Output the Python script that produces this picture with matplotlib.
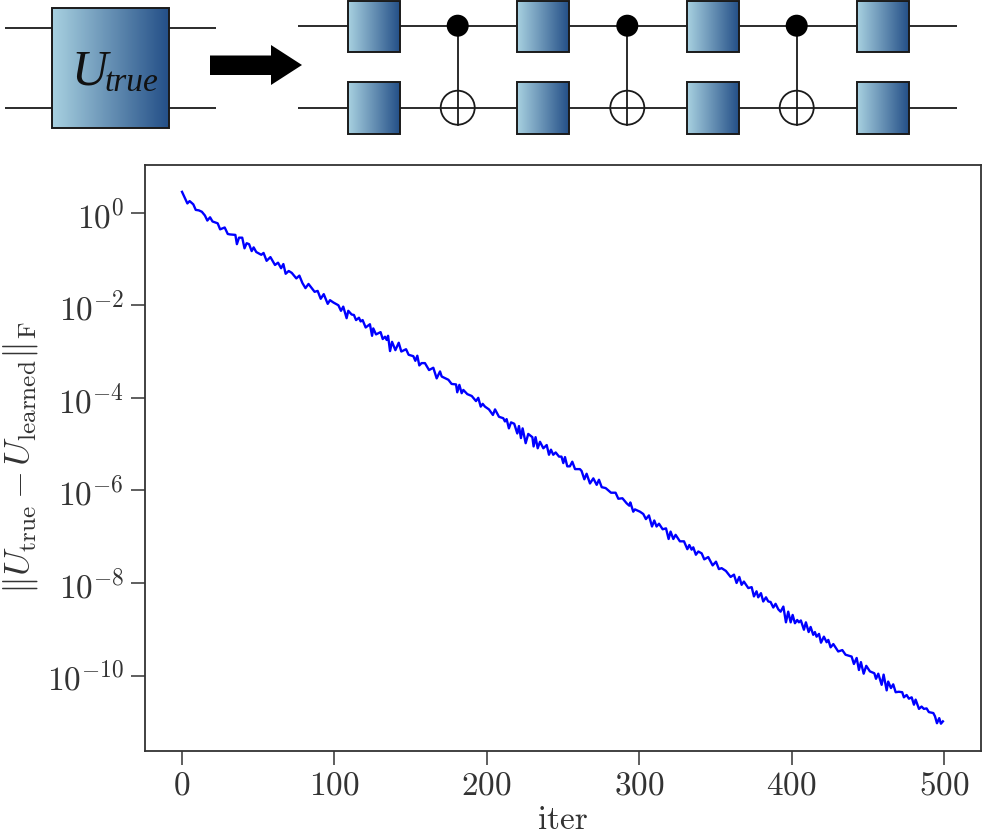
import numpy as np
import matplotlib
matplotlib.use("Agg")
import matplotlib.pyplot as plt
from matplotlib.patches import Circle, Rectangle, Polygon

plt.rcParams['font.family'] = ['cmr10', 'DejaVu Serif']
plt.rcParams['mathtext.fontset'] = 'cm'
plt.rcParams['axes.formatter.use_mathtext'] = True
plt.rcParams['axes.unicode_minus'] = False

# iter / log10(error)
iters_a = [0, 2, 3.5, 5, 7.4, 9, 11, 13, 15, 16.6, 18.4, 20, 23.4, 25, 28, 30, 31.5, 35, 36, 37.4, 39.5, 41, 42.4, 44,
           45.7, 47, 48.7, 52, 53.5, 55.5, 58, 61, 63, 65, 66.5, 68, 70, 72, 75, 77, 79, 81, 83, 87, 89, 91, 93, 95.6]
log_a = [0.45, 0.31, 0.20, 0.25, 0.18, 0.06, 0.05, 0.02, -0.06, -0.17, -0.10, -0.19, -0.23, -0.36, -0.32, -0.46, -0.47,
         -0.48, -0.68, -0.54, -0.54, -0.77, -0.66, -0.68, -0.83, -0.75, -0.85, -0.91, -0.87, -1.04, -0.96, -1.13, -1.08,
         -1.20, -1.11, -1.32, -1.26, -1.30, -1.42, -1.36, -1.52, -1.63, -1.54, -1.71, -1.69, -1.86, -1.76, -1.97]

iters_b = [97.1, 99.3, 102.6, 104.3, 105.8, 108, 109.1, 111.3, 112.8, 114.2, 116.1, 117.2, 118.5, 120.5, 123.3, 124.7,
           125.5, 127.3, 130.3, 131.7, 133.2, 134.3, 135.2, 136.5, 137.8, 140, 142.2, 143.9, 147, 148.7, 151.8, 153.1,
           154.4, 155.7, 157.2, 159.4, 162.1, 164.9, 167.1, 169.3, 170.4, 174.8, 176.9, 179.8, 180.6, 182, 183.5, 184.6,
           187.2, 190.1, 192.9, 194.4, 196, 197.3]
log_b = [-1.89, -1.94, -2.00, -2.12, -2.03, -2.28, -2.12, -2.20, -2.21, -2.32, -2.27, -2.35, -2.32, -2.48, -2.41, -2.66,
         -2.50, -2.63, -2.58, -2.73, -2.68, -2.75, -2.66, -2.99, -2.79, -2.97, -2.81, -3.00, -2.95, -3.07, -3.10, -3.20,
         -3.09, -3.30, -3.25, -3.25, -3.40, -3.35, -3.58, -3.43, -3.54, -3.61, -3.70, -3.71, -3.88, -3.72, -3.90, -3.83,
         -3.92, -3.96, -4.07, -4.00, -4.19, -4.13]

iters_c = [198.8, 201.4, 204, 205.4, 208, 210.8, 211.9, 213, 214.5, 215.9, 218, 220, 221.1, 222.4, 223.5, 225.5, 227.2,
           229.9, 230.7, 232, 233.4, 234.9, 237.1, 239.3, 240.8, 242.1, 243.6, 245.2, 247.4, 249, 250.2, 251.3, 252.8,
           254.5, 256.1, 257.9, 261.1, 262.2, 264, 265.5, 267.7, 269.9, 272.1, 273.6, 275.4, 278, 281.5, 284.5, 286.3,
           289, 291.8, 293.5, 294.2, 296.1, 297.2]
log_c = [-4.19, -4.25, -4.37, -4.25, -4.41, -4.44, -4.51, -4.46, -4.66, -4.53, -4.56, -4.77, -4.61, -4.87, -4.66, -4.98,
         -4.78, -4.85, -5.05, -4.85, -5.09, -4.95, -5.09, -5.02, -5.23, -5.12, -5.23, -5.18, -5.27, -5.27, -5.41, -5.28,
         -5.48, -5.48, -5.38, -5.54, -5.54, -5.58, -5.76, -5.64, -5.85, -5.74, -5.88, -5.77, -5.93, -5.95, -6.05, -6.05,
         -6.18, -6.17, -6.28, -6.33, -6.26, -6.46, -6.41]

iters_d = [300.5, 302.7, 304.4, 306.4, 308.4, 309.9, 311.4, 313, 315.4, 317.6, 319.3, 320.6, 322.4, 323.9, 326.7, 329.4,
           331.6, 332.9, 334.4, 335.5, 337.2, 338.8, 341, 342.7, 345.3, 348.2, 350.4, 352.3, 354.1, 356.9, 360, 362.2,
           363.9, 365.7, 367.2, 368.7, 371.6, 373.8, 375.3, 377, 378.1, 379.9, 381.4, 383.2, 384.7, 386.2, 388, 389.5,
           391.3, 392.8, 394.6, 396.3, 397.8, 399.4, 400.7]
log_d = [-6.46, -6.51, -6.62, -6.54, -6.78, -6.65, -6.78, -6.72, -6.84, -6.82, -7.05, -6.89, -7.05, -6.96, -7.10, -7.10,
         -7.27, -7.18, -7.28, -7.23, -7.39, -7.32, -7.36, -7.49, -7.44, -7.62, -7.54, -7.70, -7.68, -7.74, -7.87, -7.82,
         -8.00, -7.87, -8.04, -7.97, -8.11, -8.09, -8.29, -8.18, -8.31, -8.22, -8.40, -8.31, -8.40, -8.41, -8.53, -8.45,
         -8.57, -8.62, -8.51, -8.85, -8.62, -8.85, -8.69]

iters_e = [402.2, 403.7, 404.8, 406.1, 408.1, 409.4, 411.2, 412.5, 414.2, 415.3, 416.4, 418, 419.3, 421.2, 423, 424.1,
           425.6, 427.4, 430.6, 433.3, 435.4, 439.4, 440.9, 442.7, 444.2, 445.5, 447.3, 449, 451.4, 454.3, 455.4, 456.9,
           459.1, 460.4, 462.4, 463.4, 465.2, 466.7, 468.3, 470.4, 472.6, 473.7, 475.5, 477, 478.8, 480.3, 481.4, 483.6,
           485.3, 486.8, 488.6, 490.1, 493, 494.1, 495.4, 496.9, 498, 499.3]
log_e = [-8.87, -8.80, -8.85, -8.81, -9.01, -8.85, -9.06, -8.95, -9.12, -9.06, -9.16, -9.10, -9.29, -9.16, -9.28, -9.23,
         -9.39, -9.32, -9.48, -9.45, -9.55, -9.59, -9.75, -9.62, -9.88, -9.71, -9.96, -9.79, -9.91, -9.95, -10.07, -9.96,
         -10.20, -9.98, -10.32, -10.13, -10.27, -10.19, -10.36, -10.35, -10.36, -10.47, -10.42, -10.50, -10.47, -10.63,
         -10.52, -10.72, -10.67, -10.72, -10.71, -10.79, -10.81, -10.88, -11.03, -10.92, -11.04, -10.99]

xticks = [0, 100, 200, 300, 400, 500]
yticks = [1e0, 1e-2, 1e-4, 1e-6, 1e-8, 1e-10]
ylabel = r'$\Vert U_{\mathrm{true}}\,{-}\,U_{\mathrm{learned}}\Vert_{\mathrm{F}}$'

W, H = 982, 833
fig = plt.figure(figsize=(W / 100, H / 100), dpi=100, facecolor='white')

#MAIN PLOT
ax = fig.add_axes([145 / W, 1 - 751 / H, (981 - 145) / W, (751 - 165) / H])
x = np.array(iters_a + iters_b + iters_c + iters_d + iters_e)
y = 10.0 ** np.array(log_a + log_b + log_c + log_d + log_e)
ax.semilogy(x, y, color='#0000ff', lw=1.7)
ax.set_xlim(-24.3, 524.3)
ax.set_ylim(10 ** -11.63, 10 ** 1.03)
ax.set_xticks(xticks)
ax.set_yticks(yticks)
ax.minorticks_off()
ax.tick_params(axis='both', length=10, width=1.1, color='#333333', labelcolor='#333333', labelsize=24, pad=5)
for s in ax.spines.values():
    s.set_linewidth(1.3)
    s.set_color('#333333')
ax.set_xlabel('iter', fontsize=24, color='#333333', labelpad=4)
ax.set_ylabel(ylabel, fontsize=26, color='#333333', labelpad=5)

#CIRCUIT, drawn in pixel coordinates
dg = fig.add_axes([0, 0, 1, 1], zorder=3)
dg.set_xlim(0, W)
dg.set_ylim(H, 0)
dg.axis('off')
dg.patch.set_alpha(0)

grad = np.linspace(0, 1, 256).reshape(1, -1, 1)
c0 = np.array([0.66, 0.82, 0.88])
c1 = np.array([0.14, 0.31, 0.53])
grad = c0 + (c1 - c0) * grad


def gate(x0, y0, x1, y1):
    dg.imshow(grad, extent=[x0, x1, y1, y0], aspect='auto', zorder=2)
    dg.add_patch(Rectangle((x0, y0), x1 - x0, y1 - y0, fc='none', ec='#1a1a1a', lw=1.4, zorder=3))


def wire(x0, x1, yy):
    dg.plot([x0, x1], [yy, yy], color='#1a1a1a', lw=1.3, zorder=1, solid_capstyle='butt')


wire(5, 216, 27.7)
wire(5, 216, 107.7)
gate(52.3, 8, 169, 128)
dg.text(71, 84, 'U', family='Liberation Serif', style='italic', fontsize=36, color='#111111', zorder=4)
dg.text(105, 91, 'true', family='Liberation Serif', style='italic', fontsize=24, color='#111111', zorder=4)

dg.add_patch(Polygon([(210, 55.5), (271, 55.5), (271, 45), (302, 65), (271, 85), (271, 75), (210, 75)],
                     fc='black', ec='none', zorder=2))

wire(298, 957, 25.7)
wire(298, 957, 107.7)
for gx in [347.7, 517.3, 687, 856.7]:
    gate(gx, 1.3, gx + 52, 52)
    gate(gx, 82, gx + 52, 133.5)
for cx in [457.7, 627.3, 796.7]:
    dg.plot([cx, cx], [25.7, 124.7], color='#1a1a1a', lw=1.3, zorder=2)
    dg.add_patch(Circle((cx, 25.7), 11, fc='black', ec='none', zorder=3))
    dg.add_patch(Circle((cx, 107.7), 17, fc='none', ec='#1a1a1a', lw=1.3, zorder=3))
dg.set_xlim(0, W)
dg.set_ylim(H, 0)

fig.savefig('out.png', dpi=100)
